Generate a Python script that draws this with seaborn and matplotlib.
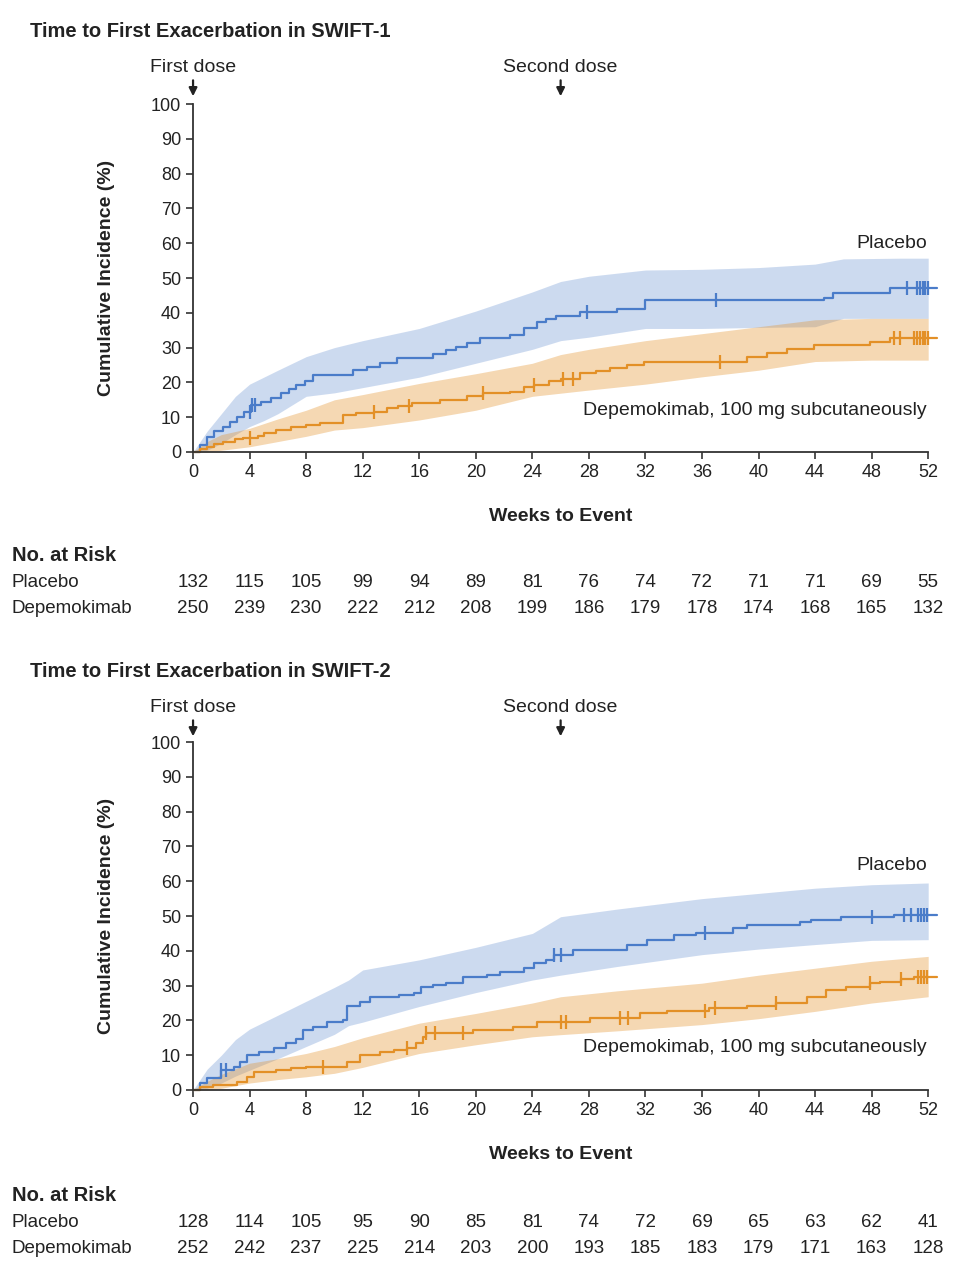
import numpy as np
import pandas as pd
import matplotlib
matplotlib.use("Agg")
import matplotlib.pyplot as plt
import matplotlib.transforms as mtransforms
import seaborn as sns

sns.set_style("ticks")
plt.rcParams['font.family'] = ['Liberation Sans', 'DejaVu Sans']

# ---------------- data ----------------
weeks_ticks = list(range(0, 53, 4))

# SWIFT-1
s1_pla_t = [0, 0.5, 1.0, 1.5, 2.1, 2.6, 3.1, 3.6, 4.1, 4.8, 5.5, 6.2, 6.8, 7.3, 7.9, 8.5, 11.3, 12.3, 13.2,
            14.4, 17.0, 17.9, 18.6, 19.4, 20.3, 22.4, 23.4, 24.3, 25.0, 25.7, 27.4, 30.0, 32.0, 44.6, 45.3, 49.3, 52.6]
s1_pla_v = [0, 2.0, 4.4, 6.0, 7.3, 8.5, 10.0, 11.5, 13.5, 14.5, 15.5, 17.0, 18.0, 19.3, 20.5, 22.0, 23.5, 24.5, 25.7,
            27.0, 28.2, 29.3, 30.2, 31.2, 32.7, 33.5, 35.5, 37.5, 38.2, 39.0, 40.3, 41.0, 43.7, 44.2, 45.6, 47.0, 47.0]
s1_pla_cens = [4.0, 4.2, 4.4, 27.9, 37.0, 50.5, 51.2, 51.4, 51.6, 51.8, 52.0]

s1_dep_t = [0, 0.5, 1.0, 1.5, 2.1, 3.0, 3.5, 4.6, 5.0, 5.9, 6.9, 8.0, 9.0, 10.6, 11.5, 12.8, 13.7, 14.5, 15.5,
            17.5, 19.4, 20.5, 22.4, 23.4, 24.1, 25.2, 26.0, 27.4, 28.5, 29.5, 30.7, 31.9, 39.2, 40.6, 42.0,
            43.9, 47.9, 49.3, 52.6]
s1_dep_v = [0, 0.8, 1.5, 2.2, 3.0, 3.6, 4.0, 4.6, 5.4, 6.3, 7.3, 7.8, 8.2, 10.6, 11.2, 11.6, 12.5, 13.2, 14.0,
            15.0, 16.0, 16.9, 17.3, 18.8, 19.3, 20.5, 21.0, 22.6, 23.3, 24.0, 25.0, 26.0, 27.4, 28.4, 29.5,
            30.7, 31.7, 32.7, 32.7]
s1_dep_cens = [4.0, 12.8, 15.3, 20.5, 24.1, 26.2, 26.9, 37.3, 49.6, 50.0, 51.0, 51.2, 51.4, 51.6, 51.8, 52.0]

s1_pla_band_w = [0, 1, 2, 3, 4, 5, 6, 8, 10, 12, 16, 20, 24, 26, 28, 32, 36, 40, 44, 46, 50, 52]
s1_pla_band_hi = [0, 6, 11, 16, 19.5, 21.5, 23.5, 27.4, 30, 32, 35.5, 40.5, 46, 49, 50.5, 52.3, 52.5, 53, 54,
                  55.5, 55.7, 55.7]
s1_pla_band_lo = [0, 0.5, 2.5, 5, 7.3, 9, 11, 16, 17, 18.5, 21.5, 25.5, 29.5, 32, 33, 35.5, 35.5, 35.8, 36,
                  38.4, 38.4, 38.4]

s1_dep_band_w = [0, 1, 2, 4, 6, 8, 10, 12, 16, 20, 24, 26, 28, 32, 36, 40, 44, 48, 52]
s1_dep_band_hi = [0, 3, 5, 6.8, 9.5, 12, 15, 16.5, 19.7, 22.5, 25.5, 28, 29.5, 32, 34, 36, 38, 38.4, 38.4]
s1_dep_band_lo = [0, 0, 0.5, 1.5, 3, 4.5, 6.3, 7, 9.2, 12, 16, 16.9, 17.8, 19.5, 21.6, 23.5, 26, 26.4, 26.4]

s1_risk_pla = [132, 115, 105, 99, 94, 89, 81, 76, 74, 72, 71, 71, 69, 55]
s1_risk_dep = [250, 239, 230, 222, 212, 208, 199, 186, 179, 178, 174, 168, 165, 132]

# SWIFT-2
s2_pla_t = [0, 0.5, 1.0, 2.0, 2.9, 3.3, 3.8, 4.7, 5.7, 6.6, 7.3, 7.8, 8.5, 9.5, 10.6, 10.9, 11.8, 12.5, 14.6,
            15.6, 16.1, 17.0, 17.9, 19.1, 20.8, 21.7, 23.4, 24.1, 25.0, 25.5, 26.9, 30.7, 32.1, 34.0, 35.6,
            38.2, 39.2, 42.9, 43.7, 45.8, 49.6, 52.6]
s2_pla_v = [0, 2.0, 3.4, 5.7, 6.7, 8.1, 10.0, 11.0, 12.0, 13.4, 14.8, 17.2, 18.2, 19.6, 20.0, 24.0, 25.4, 26.8, 27.3,
            27.8, 29.7, 30.2, 30.7, 32.6, 33.0, 34.0, 35.0, 36.4, 37.4, 38.8, 40.2, 41.7, 43.1, 44.6, 45.0,
            46.5, 47.5, 48.4, 48.9, 49.8, 50.3, 50.3]
s2_pla_cens = [2.0, 2.3, 25.5, 26.0, 36.2, 48.0, 50.3, 50.8, 51.3, 51.5, 51.7, 51.9]

s2_dep_t = [0, 0.5, 1.4, 3.1, 3.8, 4.3, 5.9, 6.9, 8.0, 10.9, 11.8, 13.2, 14.2, 15.1, 15.8, 16.3, 16.5, 19.8,
            22.6, 24.3, 28.1, 31.6, 33.5, 36.5, 39.2, 41.2, 43.4, 44.8, 46.2, 47.9, 48.6, 50.1, 51.0, 52.6]
s2_dep_v = [0, 1.0, 1.4, 2.4, 3.8, 5.3, 5.7, 6.2, 6.7, 8.1, 10.0, 11.0, 11.5, 12.0, 13.4, 15.3, 16.3, 17.2,
            18.2, 19.6, 20.6, 22.0, 22.8, 23.5, 24.0, 24.9, 26.8, 28.7, 29.7, 30.7, 31.1, 32.0, 32.6, 32.6]
s2_dep_cens = [9.2, 15.1, 16.5, 17.1, 19.1, 26.0, 26.4, 30.2, 30.8, 36.2, 36.9, 41.2, 47.9, 50.1,
               51.3, 51.5, 51.7, 51.9]

s2_pla_band_w = [0, 1, 2, 3, 4, 6, 8, 10, 11, 12, 16, 20, 24, 26, 30, 36, 40, 44, 48, 52]
s2_pla_band_hi = [0, 6, 10, 14.5, 17.5, 21.5, 25.5, 29.5, 31.6, 34.5, 37.4, 41, 45, 49.8, 52, 55, 56.5, 58, 59, 59.5]
s2_pla_band_lo = [0, 0.5, 2, 4, 5.7, 9, 12.5, 16, 18.5, 19.5, 24, 28, 31.6, 33, 35.5, 38.9, 40.5, 41.8, 43, 43.2]

s2_dep_band_w = [0, 1, 2, 4, 6, 8, 10, 12, 16, 20, 24, 26, 30, 36, 40, 44, 48, 52]
s2_dep_band_hi = [0, 2.5, 4.5, 7.7, 9, 10.5, 12.5, 15, 19.2, 22, 25, 26.8, 28.5, 30.7, 33, 35, 37, 38.4]
s2_dep_band_lo = [0, 0, 0.5, 2, 3, 3.8, 4.8, 6.5, 10.5, 13, 15.3, 15.9, 17, 18.8, 20.5, 22.6, 25, 26.8]

s2_risk_pla = [128, 114, 105, 95, 90, 85, 81, 74, 72, 69, 65, 63, 62, 41]
s2_risk_dep = [252, 242, 237, 225, 214, 203, 200, 193, 185, 183, 179, 171, 163, 128]

BLUE = '#4a7cc9'
ORANGE = '#e39027'
DARK = '#333333'
TXT = '#222222'

fig = plt.figure(figsize=(9.75, 12.75), dpi=100)


def step_at(t, v, c):
    idx = np.searchsorted(np.array(t), np.array(c), side='right') - 1
    return np.array(v)[idx]


def draw_panel(ax, title, title_y, pla, dep, pla_band, dep_band, risk_pla, risk_dep, risk_y,
               label_pla_y, label_dep_y):
    # confidence bands
    ax.fill_between(pla_band[0], pla_band[1], pla_band[2], color=BLUE, alpha=0.28, lw=0)
    ax.fill_between(dep_band[0], dep_band[1], dep_band[2], color=ORANGE, alpha=0.35, lw=0)

    for (t, v, cens), col in [(pla, BLUE), (dep, ORANGE)]:
        df = pd.DataFrame({'week': t, 'inc': v})
        sns.lineplot(data=df, x='week', y='inc', drawstyle='steps-post', color=col, lw=1.6,
                     estimator=None, sort=False, ax=ax, clip_on=False)
        cdf = pd.DataFrame({'week': cens, 'inc': step_at(t, v, cens)})
        sns.scatterplot(data=cdf, x='week', y='inc', marker='|', s=110, linewidth=1.6,
                        color=col, ax=ax, clip_on=False, zorder=3)

    ax.set_xlim(0, 52)
    ax.set_ylim(0, 100)
    ax.set_xticks(weeks_ticks)
    ax.set_yticks(range(0, 101, 10))
    ax.tick_params(axis='both', labelsize=13, length=5, width=1.2, color=DARK, labelcolor=TXT)
    for s in ['top', 'right']:
        ax.spines[s].set_visible(False)
    for s in ['left', 'bottom']:
        ax.spines[s].set_color(DARK)
        ax.spines[s].set_linewidth(1.3)

    ax.set_xlabel('Weeks to Event', fontsize=14, fontweight='bold', color=TXT)
    ax.xaxis.set_label_coords(0.5, -0.16)
    ax.set_ylabel('Cumulative Incidence (%)', fontsize=14, fontweight='bold', color=TXT)
    ax.yaxis.set_label_coords(-0.106, 0.5)

    ax.text(51.9, label_pla_y, 'Placebo', ha='right', va='center', fontsize=14, color=TXT)
    ax.text(51.9, label_dep_y, 'Depemokimab, 100 mg subcutaneously', ha='right', va='center',
            fontsize=14, color=TXT)

    # title and dose annotations
    fig.text(0.031, title_y, title, fontsize=14.5, fontweight='bold', color=TXT, va='center')
    tr = mtransforms.blended_transform_factory(ax.transData, fig.transFigure)
    dose_y = title_y - 0.0285
    for wk, lab in [(0, 'First dose'), (26, 'Second dose')]:
        ax.text(wk, dose_y, lab, transform=tr, ha='center', va='center', fontsize=14, color=TXT)
        ax.annotate('', xy=(wk, dose_y - 0.0225), xycoords=tr, xytext=(wk, dose_y - 0.010), textcoords=tr,
                    arrowprops=dict(arrowstyle='-|>', color=TXT, lw=1.6, mutation_scale=12,
                                    shrinkA=0, shrinkB=0))

    # number at risk
    fig.text(0.0123, risk_y, 'No. at Risk', fontsize=14.5, fontweight='bold', color=TXT, va='center')
    fig.text(0.0123, risk_y - 0.0212, 'Placebo', fontsize=13.5, color=TXT, va='center')
    fig.text(0.0123, risk_y - 0.0416, 'Depemokimab', fontsize=13.5, color=TXT, va='center')
    for wk, a, b in zip(weeks_ticks, risk_pla, risk_dep):
        ax.text(wk, risk_y - 0.0212, str(a), transform=tr, ha='center', va='center', fontsize=13.5,
                color=TXT)
        ax.text(wk, risk_y - 0.0416, str(b), transform=tr, ha='center', va='center', fontsize=13.5,
                color=TXT)


ax1 = fig.add_axes([0.198, 0.6455, 0.754, 0.2729])
draw_panel(ax1, 'Time to First Exacerbation in SWIFT-1', 0.9755,
           (s1_pla_t, s1_pla_v, s1_pla_cens), (s1_dep_t, s1_dep_v, s1_dep_cens),
           (s1_pla_band_w, s1_pla_band_lo, s1_pla_band_hi), (s1_dep_band_w, s1_dep_band_lo, s1_dep_band_hi),
           s1_risk_pla, s1_risk_dep, 0.5647, 59.8, 12.0)

ax2 = fig.add_axes([0.198, 0.1451, 0.754, 0.2729])
draw_panel(ax2, 'Time to First Exacerbation in SWIFT-2', 0.4735,
           (s2_pla_t, s2_pla_v, s2_pla_cens), (s2_dep_t, s2_dep_v, s2_dep_cens),
           (s2_pla_band_w, s2_pla_band_lo, s2_pla_band_hi), (s2_dep_band_w, s2_dep_band_lo, s2_dep_band_hi),
           s2_risk_pla, s2_risk_dep, 0.0627, 64.4, 12.1)

plt.savefig('out.png', dpi=100)
